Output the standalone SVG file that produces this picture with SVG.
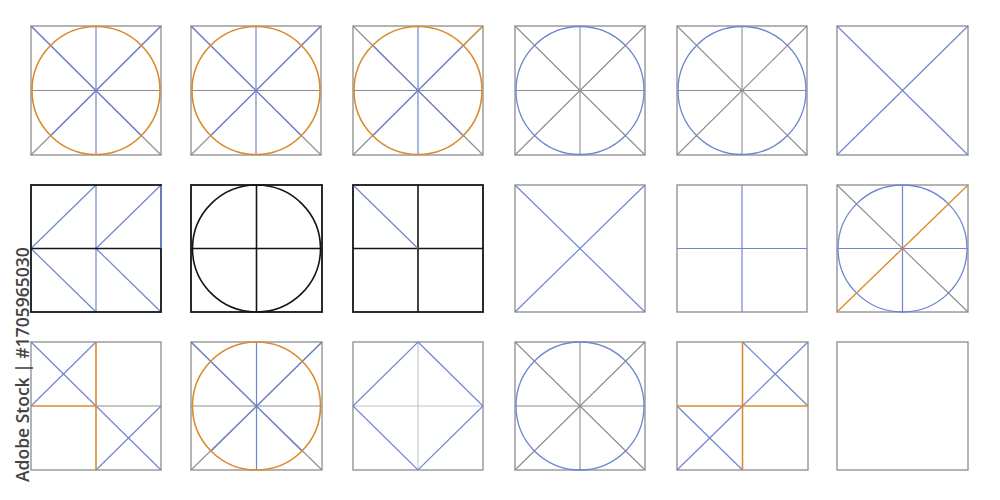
<svg xmlns="http://www.w3.org/2000/svg" width="1000" height="500" viewBox="0 0 1000 500">
<defs>
<style>
.sq{fill:none;stroke:#8c8c8c;stroke-width:1.3}
.sqk{fill:none;stroke:#151515;stroke-width:1.8}
.g{stroke:#8c8c8c;stroke-width:1.1;fill:none}
.b{stroke:#6d86d2;stroke-width:1.2;fill:none}
.o{stroke:#d98c2c;stroke-width:1.6;fill:none}
.k{stroke:#151515;stroke-width:1.6;fill:none}
.ob{stroke:#6d86d2;stroke-width:1.3;fill:none}
.wm{font-family:"Open Sans","Liberation Sans",sans-serif;font-size:17.5px;font-weight:600;fill:#444}
</style>
</defs>
<rect width="1000" height="500" fill="#ffffff"/>

<g id="cell1" transform="translate(31,26)">
<rect class="sq" x="0" y="0" width="130" height="129"/>
<line class="g" x1="0" y1="64.5" x2="130" y2="64.5"/>
<line class="g" x1="0" y1="0" x2="130" y2="129"/>
<line class="g" x1="130" y1="0" x2="0" y2="129"/>
<line class="b" x1="65" y1="0" x2="65" y2="129"/>
<line class="b" x1="0" y1="0" x2="110.3" y2="109.8"/>
<line class="b" x1="130" y1="0" x2="19.7" y2="109.8"/>
<ellipse class="o" cx="65" cy="64.5" rx="64" ry="64"/>
</g>

<g id="cell2" transform="translate(191,26)">
<rect class="sq" x="0" y="0" width="130" height="129"/>
<line class="g" x1="0" y1="64.5" x2="130" y2="64.5"/>
<line class="g" x1="0" y1="0" x2="130" y2="129"/>
<line class="g" x1="130" y1="0" x2="0" y2="129"/>
<line class="b" x1="65" y1="0" x2="65" y2="129"/>
<line class="b" x1="0" y1="0" x2="110.3" y2="109.8"/>
<line class="b" x1="130" y1="0" x2="19.7" y2="109.8"/>
<ellipse class="o" cx="65" cy="64.5" rx="64" ry="64"/>
</g>

<g id="cell3" transform="translate(353,26)">
<rect class="sq" x="0" y="0" width="130" height="129"/>
<line class="g" x1="0" y1="64.5" x2="130" y2="64.5"/>
<line class="g" x1="0" y1="0" x2="130" y2="129"/>
<line class="g" x1="130" y1="0" x2="0" y2="129"/>
<line class="b" x1="65" y1="0" x2="65" y2="129"/>
<line class="b" x1="19.7" y1="19.2" x2="110.3" y2="109.8"/>
<line class="b" x1="110.3" y1="19.2" x2="19.7" y2="109.8"/>
<line class="o" x1="130" y1="0" x2="110.3" y2="19.2" style="stroke-width:1.1"/>
<ellipse class="o" cx="65" cy="64.5" rx="64" ry="64"/>
</g>

<g id="cell4" transform="translate(515,26)">
<rect class="sq" x="0" y="0" width="130" height="129"/>
<line class="g" x1="0" y1="64.5" x2="130" y2="64.5"/>
<line class="g" x1="65" y1="0" x2="65" y2="129"/>
<line class="g" x1="0" y1="0" x2="130" y2="129"/>
<line class="g" x1="130" y1="0" x2="0" y2="129"/>
<ellipse class="ob" cx="65" cy="64.5" rx="64" ry="64"/>
</g>

<g id="cell5" transform="translate(677,26)">
<rect class="sq" x="0" y="0" width="130" height="129"/>
<line class="g" x1="0" y1="64.5" x2="130" y2="64.5"/>
<line class="g" x1="65" y1="0" x2="65" y2="129"/>
<line class="g" x1="0" y1="0" x2="130" y2="129"/>
<line class="g" x1="130" y1="0" x2="0" y2="129"/>
<ellipse class="ob" cx="65" cy="64.5" rx="64" ry="64"/>
</g>

<g id="cell6" transform="translate(837,26)">
<rect class="sq" x="0" y="0" width="131" height="129"/>
<line class="b" x1="0" y1="0" x2="131" y2="129"/>
<line class="b" x1="131" y1="0" x2="0" y2="129"/>
</g>

<g id="cell7" transform="translate(31,185)">
<line class="b" x1="65" y1="0" x2="65" y2="127"/>
<line class="b" x1="0" y1="63.5" x2="65" y2="0"/>
<line class="b" x1="65" y1="63.5" x2="130" y2="0"/>
<line class="b" x1="0" y1="63.5" x2="65" y2="127"/>
<line class="b" x1="65" y1="63.5" x2="130" y2="127"/>
<line class="k" x1="0" y1="63.5" x2="130" y2="63.5"/>
<rect class="sqk" x="0" y="0" width="130" height="127"/>
<line class="b" x1="130" y1="1" x2="130" y2="63" style="stroke-width:1.8"/>
</g>

<g id="cell8" transform="translate(191,185)">
<rect class="sqk" x="0" y="0" width="131" height="127"/>
<line class="k" x1="0" y1="63.5" x2="131" y2="63.5"/>
<line class="k" x1="65.5" y1="0" x2="65.5" y2="127"/>
<ellipse class="k" cx="65.5" cy="63.5" rx="64" ry="63.5"/>
</g>

<g id="cell9" transform="translate(353,185)">
<rect class="sqk" x="0" y="0" width="130" height="127"/>
<line class="k" x1="0" y1="63.5" x2="130" y2="63.5"/>
<line class="k" x1="65" y1="0" x2="65" y2="127"/>
<line class="b" x1="1" y1="1" x2="65" y2="63.5"/>
</g>

<g id="cell10" transform="translate(515,185)">
<rect class="sq" x="0" y="0" width="130" height="127"/>
<line class="b" x1="0" y1="0" x2="130" y2="127"/>
<line class="b" x1="130" y1="0" x2="0" y2="127"/>
</g>

<g id="cell11" transform="translate(677,185)">
<rect class="sq" x="0" y="0" width="130" height="127"/>
<line class="b" x1="0" y1="63.5" x2="130" y2="63.5"/>
<line class="b" x1="65" y1="0" x2="65" y2="127"/>
</g>

<g id="cell12" transform="translate(837,185)">
<rect class="sq" x="0" y="0" width="131" height="127"/>
<line class="g" x1="0" y1="0" x2="131" y2="127"/>
<line class="b" x1="0" y1="63.5" x2="131" y2="63.5"/>
<line class="b" x1="65.5" y1="0" x2="65.5" y2="127"/>
<ellipse class="ob" cx="65.5" cy="63.5" rx="64.5" ry="63.5"/>
<line class="o" x1="131" y1="0" x2="0" y2="127" style="stroke-width:1.4"/>
</g>

<g id="cell13" transform="translate(31,342)">
<rect class="sq" x="0" y="0" width="130" height="128"/>
<line class="g" x1="65" y1="64" x2="130" y2="64"/>
<line class="b" x1="0" y1="0" x2="65" y2="64"/>
<line class="b" x1="65" y1="0" x2="0" y2="64"/>
<line class="b" x1="65" y1="64" x2="130" y2="128"/>
<line class="b" x1="130" y1="64" x2="65" y2="128"/>
<line class="o" x1="65" y1="0" x2="65" y2="128"/>
<line class="o" x1="0" y1="64" x2="65" y2="64"/>
</g>

<g id="cell14" transform="translate(191,342)">
<rect class="sq" x="0" y="0" width="131" height="128"/>
<line class="g" x1="0" y1="64" x2="131" y2="64"/>
<line class="g" x1="0" y1="0" x2="131" y2="128"/>
<line class="g" x1="131" y1="0" x2="0" y2="128"/>
<line class="b" x1="65.5" y1="0" x2="65.5" y2="128"/>
<line class="b" x1="0" y1="0" x2="110.8" y2="109"/>
<line class="b" x1="131" y1="0" x2="20.2" y2="109"/>
<ellipse class="o" cx="65.5" cy="64" rx="64" ry="64"/>
</g>

<g id="cell15" transform="translate(353,342)">
<rect class="sq" x="0" y="0" width="130" height="128"/>
<line class="g" x1="0" y1="64" x2="130" y2="64" style="stroke:#c4c4c4"/>
<line class="g" x1="65" y1="0" x2="65" y2="128" style="stroke:#c4c4c4"/>
<polygon class="b" points="65,0 130,64 65,128 0,64"/>
</g>

<g id="cell16" transform="translate(515,342)">
<rect class="sq" x="0" y="0" width="130" height="128"/>
<line class="g" x1="0" y1="64" x2="130" y2="64"/>
<line class="g" x1="65" y1="0" x2="65" y2="128"/>
<line class="g" x1="0" y1="0" x2="130" y2="128"/>
<line class="g" x1="130" y1="0" x2="0" y2="128"/>
<ellipse class="ob" cx="65" cy="64" rx="64" ry="64"/>
</g>

<g id="cell17" transform="translate(677,342)">
<rect class="sq" x="0" y="0" width="131" height="128"/>
<line class="b" x1="65.5" y1="0" x2="131" y2="64"/>
<line class="b" x1="131" y1="0" x2="65.5" y2="64"/>
<line class="b" x1="0" y1="64" x2="65.5" y2="128"/>
<line class="b" x1="65.5" y1="64" x2="0" y2="128"/>
<line class="o" x1="65.5" y1="0" x2="65.5" y2="128"/>
<line class="o" x1="0" y1="64" x2="131" y2="64"/>
</g>

<g id="cell18" transform="translate(837,342)">
<rect class="sq" x="0" y="0" width="131" height="128"/>
</g>

<g id="connectors"></g>

<text class="wm" transform="translate(29,482) rotate(-90)">Adobe Stock | #1705965030</text>
</svg>
